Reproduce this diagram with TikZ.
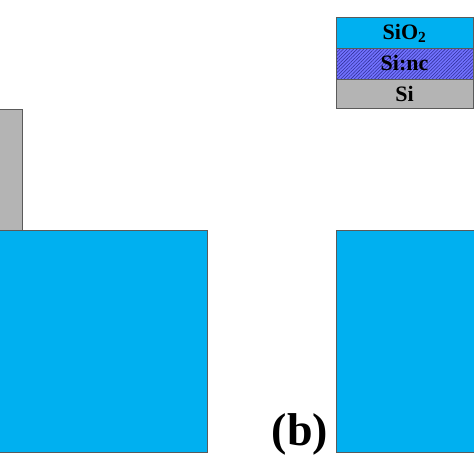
\documentclass[tikz,border=0pt]{standalone}
\usepackage{fontspec}
\setmainfont{Liberation Serif}[BoldFont={Liberation Serif Bold}]
\usetikzlibrary{patterns.meta}
\definecolor{oxideblue}{HTML}{00B0F0}
\definecolor{ncblue}{HTML}{7272FF}
\definecolor{ncline}{HTML}{30309A}
\definecolor{sigray}{HTML}{B4B4B4}
\definecolor{edgegray}{HTML}{5A5A5A}
\tikzset{
	oxide/.style={fill=oxideblue,draw=edgegray,line width=0.8pt},
	silicon/.style={fill=sigray,draw=edgegray,line width=0.8pt},
	ncl/.style={fill=ncblue,draw=edgegray,line width=0.8pt},
	legendtext/.style={font=\bfseries\fontsize{22}{22}\selectfont,inner sep=0pt},
}

\begin{document}
\begin{tikzpicture}[x=1pt,y=-1pt]
	\useasboundingbox (0,0) rectangle (474,474);
	% substrate blocks
	\draw[silicon] (-5,109) rectangle (22,230);
	\draw[oxide] (-5,230) rectangle (207,452);
	\draw[oxide] (336,230) rectangle (480,452);
	% legend
	\draw[oxide] (336,17) rectangle (473,48);
	\draw[ncl] (336,48) rectangle (473,79);
	\fill[pattern={Lines[angle=45,distance=2.4pt,line width=0.55pt]},pattern color=ncline] (336,48) rectangle (473,79);
	\draw[edgegray,line width=0.8pt] (336,48) rectangle (473,79);
	\draw[silicon] (336,79) rectangle (473,108);
	\node[legendtext] (oxlab) at (404.5,33) {SiO\textsubscript{2}};
	\node[legendtext] (nclab) at (404.5,63.5) {Si:nc};
	\node[legendtext] (silab) at (404.5,94) {Si};
	\node[font=\bfseries\fontsize{46}{46}\selectfont,inner sep=0pt] (blab) at (300,434) {(b)};
\end{tikzpicture}
\end{document}
